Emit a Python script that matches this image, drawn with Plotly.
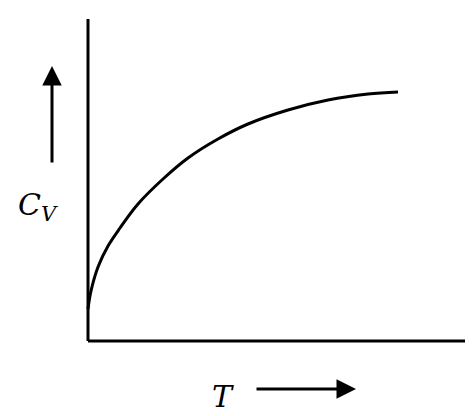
import plotly.graph_objects as go

T = [0, 3, 10, 20, 32, 50, 75, 100, 130, 160, 200, 240, 280, 310]
Cv = [32, 50, 74, 95, 113, 137, 162, 183, 202, 217, 231, 241, 247, 249]

fig = go.Figure()
fig.add_trace(go.Scatter(x=T, y=Cv, mode="lines", line=dict(color="black", width=3, shape="spline", smoothing=1.0), showlegend=False))

fig.add_shape(type="line", x0=0, y0=0, x1=0, y1=322, line=dict(color="black", width=3))
fig.add_shape(type="line", x0=0, y0=0, x1=377, y1=0, line=dict(color="black", width=3))

fig.add_annotation(x=-36, y=275, ax=-36, ay=177, xref="x", yref="y", axref="x", ayref="y",
                   text="", showarrow=True, arrowhead=2, arrowsize=1.3, arrowwidth=3, arrowcolor="black")
fig.add_annotation(x=268, y=-48, ax=167, ay=-48, xref="x", yref="y", axref="x", ayref="y",
                   text="", showarrow=True, arrowhead=2, arrowsize=1.3, arrowwidth=3, arrowcolor="black")

fig.add_annotation(x=-50, y=135, text="<i>C<sub>V</sub></i>", showarrow=False,
                   font=dict(family="DejaVu Serif", size=30, color="black"))
fig.add_annotation(x=135, y=-55, text="<i>T</i>", showarrow=False,
                   font=dict(family="DejaVu Serif", size=30, color="black"))

fig.update_layout(width=474, height=416, margin=dict(l=0, r=0, t=0, b=0),
                  plot_bgcolor="white", paper_bgcolor="white",
                  xaxis=dict(range=[-80, 394], visible=False),
                  yaxis=dict(range=[-83, 333], visible=False))
fig.write_html("out.html")
